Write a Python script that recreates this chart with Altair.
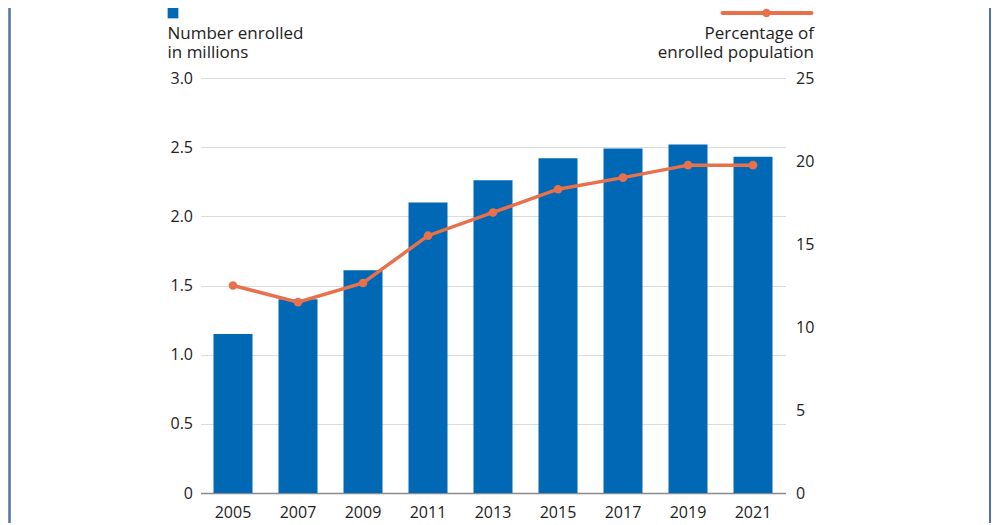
import altair as alt
import pandas as pd

years = ["2005", "2007", "2009", "2011", "2013", "2015", "2017", "2019", "2021"]
enrolled_millions = [1.15, 1.40, 1.61, 2.10, 2.26, 2.42, 2.49, 2.52, 2.43]
pct_enrolled = [12.5, 11.5, 12.65, 15.5, 16.9, 18.3, 19.0, 19.75, 19.75]

left_title = ["Number enrolled", "in millions"]
right_title = ["Percentage of", "enrolled population"]

BLUE = "#0068b4"
ORANGE = "#e8714c"
TEXT = "#222222"
FONT = "Open Sans"
FS = 16
LFS = 17

df = pd.DataFrame({"year": years, "enrolled": enrolled_millions, "pct": pct_enrolled})
one = pd.DataFrame({"k": [0]})

x = alt.X("year:O", title=None,
          scale=alt.Scale(paddingInner=0.4, paddingOuter=0.2),
          axis=alt.Axis(labelAngle=0, ticks=False, domain=True, domainColor="#8a8a8a",
                        domainWidth=1.5, labelPadding=11, labelFontSize=FS,
                        labelColor=TEXT, labelFont=FONT))

bars = alt.Chart(df).mark_bar(color=BLUE).encode(
    x=x,
    y=alt.Y("enrolled:Q", title=None,
            scale=alt.Scale(domain=[0, 3.0]),
            axis=alt.Axis(values=[0, 0.5, 1.0, 1.5, 2.0, 2.5, 3.0],
                          labelExpr="datum.value == 0 ? '0' : format(datum.value, '.1f')",
                          ticks=False, domain=False, grid=True, gridColor="#dcdcdc",
                          labelPadding=8, labelFontSize=FS, labelColor=TEXT, labelFont=FONT)),
)

line = alt.Chart(df).mark_line(color=ORANGE, strokeWidth=3.5, interpolate="linear",
                               point=alt.OverlayMarkDef(color=ORANGE, size=75, filled=True, opacity=1)).encode(
    x=alt.X("year:O"),
    y=alt.Y("pct:Q", title=None,
            scale=alt.Scale(domain=[0, 25]),
            axis=alt.Axis(orient="right", values=[0, 5, 10, 15, 20, 25], ticks=False,
                          domain=False, grid=False, labelPadding=10, labelFontSize=FS,
                          labelColor=TEXT, labelFont=FONT)),
)

def txt(s, xpos, ypos, align):
    return alt.Chart(one).mark_text(align=align, baseline="alphabetic", fontSize=LFS,
                                    font=FONT, color=TEXT).encode(
        text=alt.value(s), x=alt.value(xpos), y=alt.value(ypos))

legend_texts = [
    txt(left_title[0], -33, -39.5, "left"),
    txt(left_title[1], -33, -20.5, "left"),
    txt(right_title[0], 613.5, -39.5, "right"),
    txt(right_title[1], 613.5, -20.5, "right"),
]

square = alt.Chart(one).mark_square(color=BLUE, size=115, opacity=1).encode(
    x=alt.value(-27.5), y=alt.value(-65))
leg_line = alt.Chart(one).mark_rule(color=ORANGE, strokeWidth=4, strokeCap="round").encode(
    x=alt.value(522), x2=alt.value(611), y=alt.value(-65))
leg_dot = alt.Chart(one).mark_circle(color=ORANGE, size=70, opacity=1).encode(
    x=alt.value(566), y=alt.value(-65))

border_l = alt.Chart(one).mark_rule(color="#4f72a6", strokeWidth=2.5).encode(
    x=alt.value(-191), y=alt.value(-80), y2=alt.value(460))
border_r = alt.Chart(one).mark_rule(color="#4f72a6", strokeWidth=2).encode(
    x=alt.value(789.5), y=alt.value(-80), y2=alt.value(460))

chart = alt.layer(bars, line, *legend_texts, square, leg_line, leg_dot,
                  border_l, border_r).resolve_scale(y="independent").properties(
    width=585, height=415,
    autosize=alt.AutoSizeParams(type="none"),
    padding={"left": 192.5, "top": 70, "right": 205, "bottom": 30},
).configure_view(stroke=None)

chart.save("out.html", embed_options={"renderer": "svg", "actions": False})
